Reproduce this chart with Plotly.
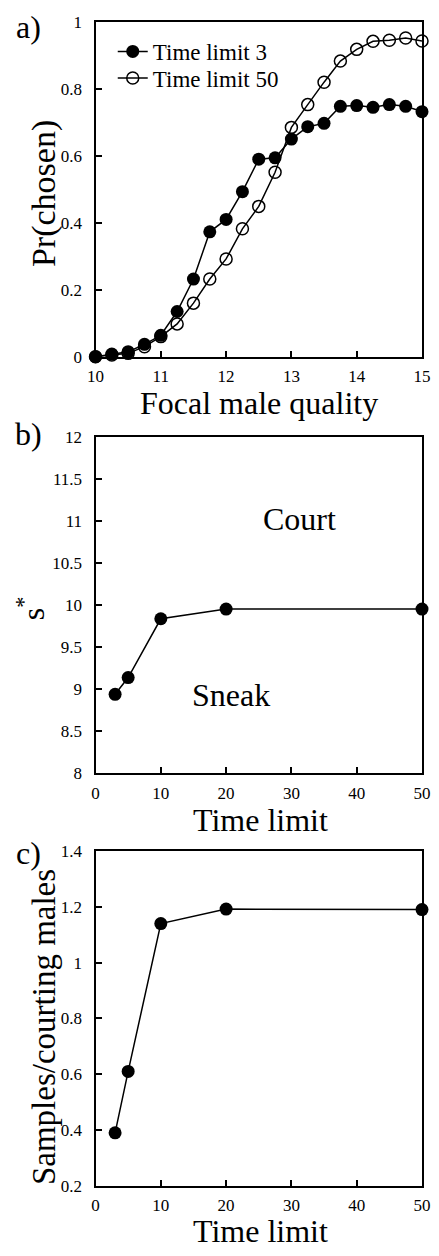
import plotly.graph_objects as go

# panel a: probability of being chosen vs focal male quality
quality = [10, 10.25, 10.5, 10.75, 11, 11.25, 11.5, 11.75, 12, 12.25, 12.5,
           12.75, 13, 13.25, 13.5, 13.75, 14, 14.25, 14.5, 14.75, 15]
pr_limit3 = [0.0, 0.008, 0.015, 0.037, 0.064, 0.135, 0.232, 0.373, 0.41, 0.493, 0.59,
             0.594, 0.65, 0.687, 0.697, 0.748, 0.75, 0.745, 0.753, 0.748, 0.732]
pr_limit50 = [0.0, 0.005, 0.01, 0.03, 0.06, 0.098, 0.16, 0.232, 0.292, 0.382, 0.449,
              0.551, 0.685, 0.753, 0.82, 0.883, 0.918, 0.942, 0.945, 0.952, 0.943]

# panels b and c: vs time limit
time_limit = [3, 5, 10, 20, 50]
s_star = [8.94, 9.14, 9.84, 9.955, 9.955]
samples = [0.39, 0.61, 1.14, 1.192, 1.19]

# the page body keeps its default 8px margin, so the figure is 16px smaller
OFF = 8
W, H = 439 - 2 * OFF, 1256 - 2 * OFF
FONT = "Liberation Serif, Times New Roman, serif"
BLACK = "black"


def px(x):
    # page pixel -> paper fraction
    return (x - OFF) / W


def py(y):
    return 1 - (y - OFF) / H


fig = go.Figure()

fig.add_trace(go.Scatter(
    x=quality, y=pr_limit3, name="Time limit 3", mode="lines+markers",
    line=dict(color=BLACK, width=1.5),
    marker=dict(symbol="circle", size=13, color=BLACK),
    cliponaxis=False, xaxis="x", yaxis="y", legend="legend"))
fig.add_trace(go.Scatter(
    x=quality, y=pr_limit50, name="Time limit 50", mode="lines+markers",
    line=dict(color=BLACK, width=1.5),
    marker=dict(symbol="circle-open", size=12, color=BLACK, line=dict(width=1.5)),
    cliponaxis=False, xaxis="x", yaxis="y", legend="legend2"))

fig.add_trace(go.Scatter(
    x=time_limit, y=s_star, mode="lines+markers", showlegend=False,
    line=dict(color=BLACK, width=1.5),
    marker=dict(symbol="circle", size=13, color=BLACK),
    cliponaxis=False, xaxis="x2", yaxis="y2"))

fig.add_trace(go.Scatter(
    x=time_limit, y=samples, mode="lines+markers", showlegend=False,
    line=dict(color=BLACK, width=1.5),
    marker=dict(symbol="circle", size=13, color=BLACK),
    cliponaxis=False, xaxis="x3", yaxis="y3"))

xdom = [px(90), px(431)]
axis_common = dict(
    showline=True, mirror=True, linecolor=BLACK, linewidth=2,
    ticks="inside", ticklen=6, tickwidth=2, tickcolor=BLACK,
    showgrid=False, zeroline=False, ticklabeloverflow="allow",
    tickfont=dict(family=FONT, size=17, color=BLACK),
)
xax = dict(ticklabelstandoff=3, **axis_common)
yax = dict(ticklabelstandoff=8, **axis_common)

leg = dict(xanchor="left", yanchor="middle", bgcolor="rgba(0,0,0,0)",
           font=dict(family=FONT, size=23, color=BLACK))

fig.update_layout(
    width=W, height=H, autosize=False,
    margin=dict(l=0, r=0, t=0, b=0),
    paper_bgcolor="white", plot_bgcolor="white",
    font=dict(family=FONT, color=BLACK),
    xaxis=dict(domain=xdom, range=[10, 15], dtick=1, anchor="y", **xax),
    yaxis=dict(domain=[py(353), py(13)], range=[0, 1], dtick=0.2, anchor="x", **yax),
    xaxis2=dict(domain=xdom, range=[0, 50], dtick=10, anchor="y2", **xax),
    yaxis2=dict(domain=[py(776), py(435)], range=[8, 12], dtick=0.5, anchor="x2", **yax),
    xaxis3=dict(domain=xdom, range=[0, 50], dtick=10, anchor="y3", **xax),
    yaxis3=dict(domain=[py(1195), py(855)], range=[0.2, 1.4], dtick=0.2, anchor="x3", **yax),
    showlegend=True,
    legend=dict(x=px(108), y=py(43), **leg),
    legend2=dict(x=px(108), y=py(70), **leg),
)

big = dict(family=FONT, size=32, color=BLACK)
annos = [
    dict(text="a)", x=px(20), y=py(18)),
    dict(text="b)", x=px(20), y=py(431)),
    dict(text="c)", x=px(20), y=py(857)),
    dict(text="Pr(chosen)", x=px(36), y=py(187), textangle=-90, font=dict(big, size=34)),
    dict(text="s<sup>*</sup>", x=px(22), y=py(608), textangle=-90),
    dict(text="Samples/courting males", x=px(36), y=py(1034), textangle=-90,
         font=dict(big, size=33)),
    dict(text="Focal male quality", x=px(261), y=py(400)),
    dict(text="Time limit", x=px(262), y=py(823)),
    dict(text="Time limit", x=px(262), y=py(1241)),
]
for a in annos:
    a.setdefault("font", big)
    fig.add_annotation(xref="paper", yref="paper", showarrow=False,
                       xanchor="center", yanchor="middle", **a)

fig.add_annotation(text="Court", x=31.27, y=11.03, xref="x2", yref="y2",
                   showarrow=False, font=big)
fig.add_annotation(text="Sneak", x=20.69, y=8.93, xref="x2", yref="y2",
                   showarrow=False, font=big)

fig.write_html("out.html", config={"displayModeBar": False})
